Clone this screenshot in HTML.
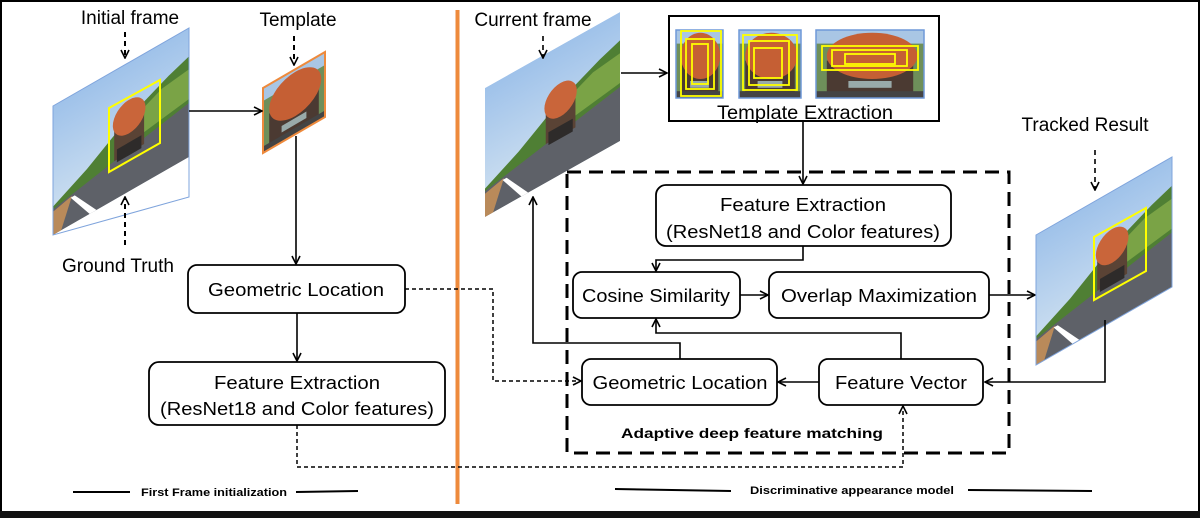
<!DOCTYPE html>
<html><head><meta charset="utf-8"><style>html,body{margin:0;padding:0;background:#fff}svg{display:block}text{font-family:"Liberation Sans",sans-serif;fill:#000}</style></head>
<body>
<svg width="1200" height="518" viewBox="0 0 1200 518" xmlns="http://www.w3.org/2000/svg">
<defs>
<linearGradient id="sky" x1="0" y1="0" x2="0" y2="1"><stop offset="0" stop-color="#9fc2ea"/><stop offset="1" stop-color="#d3e3f1"/></linearGradient>
<marker id="ah" markerWidth="10" markerHeight="10" refX="9" refY="5" orient="auto" markerUnits="userSpaceOnUse"><path d="M1,1 L9,5 L1,9" fill="none" stroke="#000" stroke-width="1.6"/></marker>
<symbol id="scene" viewBox="0 0 100 100" preserveAspectRatio="none">
<rect width="100" height="100" fill="url(#sky)"/>
<polygon points="0,78 25,64 45,50 65,38 85,28 100,22 100,62 0,85" fill="#4f7f34"/>
<polygon points="60,45 80,35 100,32 100,55 60,62" fill="#7aa346"/>
<polygon points="0,100 0,80 100,58 100,100" fill="#5e6168"/>
<polygon points="0,82 14,78 6,100 0,100" fill="#b98a5a"/>
<polygon points="13,79 16,79 32,100 27,100" fill="#fff"/>
<rect x="45" y="38" width="22" height="32" fill="#5a4335"/>
<ellipse cx="56" cy="42" rx="12" ry="13" fill="#c9653a"/>
<rect x="47" y="62" width="18" height="10" fill="#2e2b2a"/>
</symbol>
<symbol id="close" viewBox="0 0 100 100" preserveAspectRatio="none">
<rect width="100" height="100" fill="#6e8f5a"/>
<rect width="100" height="20" fill="#a9c6e4"/>
<rect x="10" y="45" width="80" height="55" fill="#4b3a32"/>
<ellipse cx="52" cy="38" rx="42" ry="34" fill="#c55f34"/>
<rect x="30" y="75" width="40" height="10" fill="#9aa"/>
<rect x="0" y="90" width="100" height="10" fill="#444"/>
</symbol>
</defs>
<rect x="0" y="0" width="1200" height="518" fill="#fff"/>
<rect x="1" y="1" width="1198" height="514" fill="none" stroke="#000" stroke-width="2"/>
<rect x="0" y="511" width="1200" height="7" fill="#111"/>
<rect x="455.5" y="10" width="4" height="494" fill="#ee8a3c"/>

<!-- Left frames -->
<use href="#scene" width="100" height="100" transform="matrix(1.36,-0.78,0,1.29,53,106)"/>
<polygon points="53,106 189,28 189,197 53,235" fill="none" stroke="#7fa4dc" stroke-width="1"/>
<polygon points="109,108 160,80 160,143 109,172" fill="none" stroke="#ffff00" stroke-width="2"/>
<use href="#close" width="100" height="100" transform="matrix(0.62,-0.36,0,0.65,263,88)"/>
<polygon points="263,88 325,52 325,117 263,153" fill="none" stroke="#ee8a3c" stroke-width="2"/>

<text x="130" y="24" font-size="19" text-anchor="middle">Initial frame</text>
<line x1="125" y1="32" x2="125" y2="58" stroke="#000" stroke-width="2" stroke-dasharray="5,4" marker-end="url(#ah)"/>
<text x="298" y="26" font-size="19" text-anchor="middle">Template</text>
<line x1="294" y1="36" x2="294" y2="65" stroke="#000" stroke-width="2" stroke-dasharray="5,4" marker-end="url(#ah)"/>
<line x1="125" y1="245" x2="125" y2="197" stroke="#000" stroke-width="2" stroke-dasharray="5,4" marker-end="url(#ah)"/>
<text x="118" y="272" font-size="19" text-anchor="middle">Ground Truth</text>
<line x1="189" y1="111" x2="262" y2="111" stroke="#000" stroke-width="1.6" marker-end="url(#ah)"/>
<line x1="296" y1="136" x2="296" y2="264" stroke="#000" stroke-width="1.6" marker-end="url(#ah)"/>

<rect x="188" y="265" width="217" height="48" rx="9" fill="#fff" stroke="#000" stroke-width="1.8"/>
<text x="296" y="296" font-size="18" text-anchor="middle" textLength="176" lengthAdjust="spacingAndGlyphs">Geometric Location</text>
<line x1="297" y1="313" x2="297" y2="361" stroke="#000" stroke-width="1.6" marker-end="url(#ah)"/>
<rect x="149" y="362" width="296" height="63" rx="10" fill="#fff" stroke="#000" stroke-width="1.8"/>
<text x="297" y="389" font-size="18" text-anchor="middle" textLength="166" lengthAdjust="spacingAndGlyphs">Feature Extraction</text>
<text x="297" y="415" font-size="18" text-anchor="middle" textLength="274" lengthAdjust="spacingAndGlyphs">(ResNet18 and Color features)</text>

<!-- dashed connectors -->
<polyline points="297,425 297,467 903,467 903,406" fill="none" stroke="#000" stroke-width="1.5" stroke-dasharray="4,3" marker-end="url(#ah)"/>
<polyline points="405,289 493,289 493,381 581,381" fill="none" stroke="#000" stroke-width="1.5" stroke-dasharray="4,3" marker-end="url(#ah)"/>

<!-- legends -->
<line x1="73" y1="492" x2="130" y2="492" stroke="#000" stroke-width="2"/>
<text x="214" y="496" font-size="11" font-weight="bold" text-anchor="middle" textLength="146" lengthAdjust="spacingAndGlyphs">First Frame initialization</text>
<line x1="296" y1="492" x2="358" y2="491" stroke="#000" stroke-width="2"/>
<line x1="615" y1="489" x2="731" y2="491" stroke="#000" stroke-width="2"/>
<text x="852" y="494" font-size="11" font-weight="bold" text-anchor="middle" textLength="204" lengthAdjust="spacingAndGlyphs">Discriminative appearance model</text>
<line x1="968" y1="490" x2="1092" y2="491" stroke="#000" stroke-width="2"/>

<!-- right side -->
<use href="#scene" width="100" height="100" transform="matrix(1.35,-0.76,0,1.29,485,88)"/>
<text x="533" y="26" font-size="19" text-anchor="middle">Current frame</text>
<line x1="543" y1="36" x2="543" y2="58" stroke="#000" stroke-width="1.6" stroke-dasharray="5,4" marker-end="url(#ah)"/>
<line x1="621" y1="73" x2="667" y2="73" stroke="#000" stroke-width="1.6" marker-end="url(#ah)"/>

<rect x="669" y="16" width="270" height="105" fill="#fff" stroke="#000" stroke-width="2"/>
<use href="#close" width="100" height="100" transform="matrix(0.47,0,0,0.68,676,30)"/>
<rect x="676" y="30" width="47" height="68" fill="none" stroke="#6f98d8" stroke-width="1.5"/>
<rect x="681" y="31" width="40" height="65" fill="none" stroke="#ff0" stroke-width="1.8"/>
<rect x="686" y="39" width="28" height="50" fill="none" stroke="#ff0" stroke-width="1.8"/>
<rect x="692" y="44" width="16" height="40" fill="none" stroke="#ff0" stroke-width="1.8"/>
<use href="#close" width="100" height="100" transform="matrix(0.62,0,0,0.68,739,30)"/>
<rect x="739" y="30" width="62" height="68" fill="none" stroke="#6f98d8" stroke-width="1.5"/>
<rect x="743" y="35" width="54" height="55" fill="none" stroke="#ff0" stroke-width="1.8"/>
<rect x="749" y="41" width="40" height="44" fill="none" stroke="#ff0" stroke-width="1.8"/>
<rect x="754" y="48" width="28" height="30" fill="none" stroke="#ff0" stroke-width="1.8"/>
<use href="#close" width="100" height="100" transform="matrix(1.08,0,0,0.68,816,30)"/>
<rect x="816" y="30" width="108" height="68" fill="none" stroke="#6f98d8" stroke-width="1.5"/>
<rect x="822" y="46" width="96" height="24" fill="none" stroke="#ff0" stroke-width="1.8"/>
<rect x="832" y="50" width="75" height="16" fill="none" stroke="#ff0" stroke-width="1.8"/>
<rect x="845" y="54" width="50" height="10" fill="none" stroke="#ff0" stroke-width="1.8"/>
<text x="805" y="119" font-size="19" text-anchor="middle" textLength="176" lengthAdjust="spacingAndGlyphs">Template Extraction</text>
<line x1="803" y1="121" x2="803" y2="184" stroke="#000" stroke-width="1.6" marker-end="url(#ah)"/>

<rect x="567" y="172" width="442" height="281" fill="none" stroke="#000" stroke-width="3" stroke-dasharray="14,8"/>

<rect x="656" y="185" width="295" height="61" rx="10" fill="#fff" stroke="#000" stroke-width="1.8"/>
<text x="803" y="211" font-size="18" text-anchor="middle" textLength="166" lengthAdjust="spacingAndGlyphs">Feature Extraction</text>
<text x="803" y="238" font-size="18" text-anchor="middle" textLength="274" lengthAdjust="spacingAndGlyphs">(ResNet18 and Color features)</text>
<polyline points="803,246 803,260 656,260 656,271" fill="none" stroke="#000" stroke-width="1.6" marker-end="url(#ah)"/>

<rect x="573" y="272" width="167" height="46" rx="9" fill="#fff" stroke="#000" stroke-width="1.8"/>
<text x="656" y="302" font-size="18" text-anchor="middle" textLength="148" lengthAdjust="spacingAndGlyphs">Cosine Similarity</text>
<line x1="740" y1="295" x2="768" y2="295" stroke="#000" stroke-width="1.6" marker-end="url(#ah)"/>
<rect x="769" y="272" width="220" height="46" rx="9" fill="#fff" stroke="#000" stroke-width="1.8"/>
<text x="879" y="302" font-size="18" text-anchor="middle" textLength="196" lengthAdjust="spacingAndGlyphs">Overlap Maximization</text>
<line x1="989" y1="295" x2="1035" y2="295" stroke="#000" stroke-width="1.6" marker-end="url(#ah)"/>

<rect x="582" y="359" width="195" height="46" rx="9" fill="#fff" stroke="#000" stroke-width="1.8"/>
<text x="680" y="389" font-size="18" text-anchor="middle" textLength="175" lengthAdjust="spacingAndGlyphs">Geometric Location</text>
<rect x="819" y="359" width="164" height="46" rx="9" fill="#fff" stroke="#000" stroke-width="1.8"/>
<text x="901" y="389" font-size="18" text-anchor="middle" textLength="132" lengthAdjust="spacingAndGlyphs">Feature Vector</text>
<line x1="819" y1="382" x2="778" y2="382" stroke="#000" stroke-width="1.6" marker-end="url(#ah)"/>
<polyline points="901,359 901,333 656,333 656,319" fill="none" stroke="#000" stroke-width="1.6" marker-end="url(#ah)"/>
<polyline points="680,359 680,343 533,343 533,197" fill="none" stroke="#000" stroke-width="1.6" marker-end="url(#ah)"/>
<text x="752" y="438" font-size="14" font-weight="bold" text-anchor="middle" textLength="262" lengthAdjust="spacingAndGlyphs">Adaptive deep feature matching</text>

<use href="#scene" width="100" height="100" transform="matrix(1.36,-0.78,0,1.30,1036,235)"/>
<polygon points="1036,235 1172,157 1172,287 1036,365" fill="none" stroke="#7fa4dc" stroke-width="1"/>
<polygon points="1094,237 1146,208 1146,271 1094,300" fill="none" stroke="#ffff00" stroke-width="2"/>
<text x="1085" y="131" font-size="19" text-anchor="middle">Tracked Result</text>
<line x1="1095" y1="150" x2="1095" y2="190" stroke="#000" stroke-width="1.6" stroke-dasharray="5,4" marker-end="url(#ah)"/>
<polyline points="1105,320 1105,382 985,382" fill="none" stroke="#000" stroke-width="1.6" marker-end="url(#ah)"/>
</svg>
</body></html>
